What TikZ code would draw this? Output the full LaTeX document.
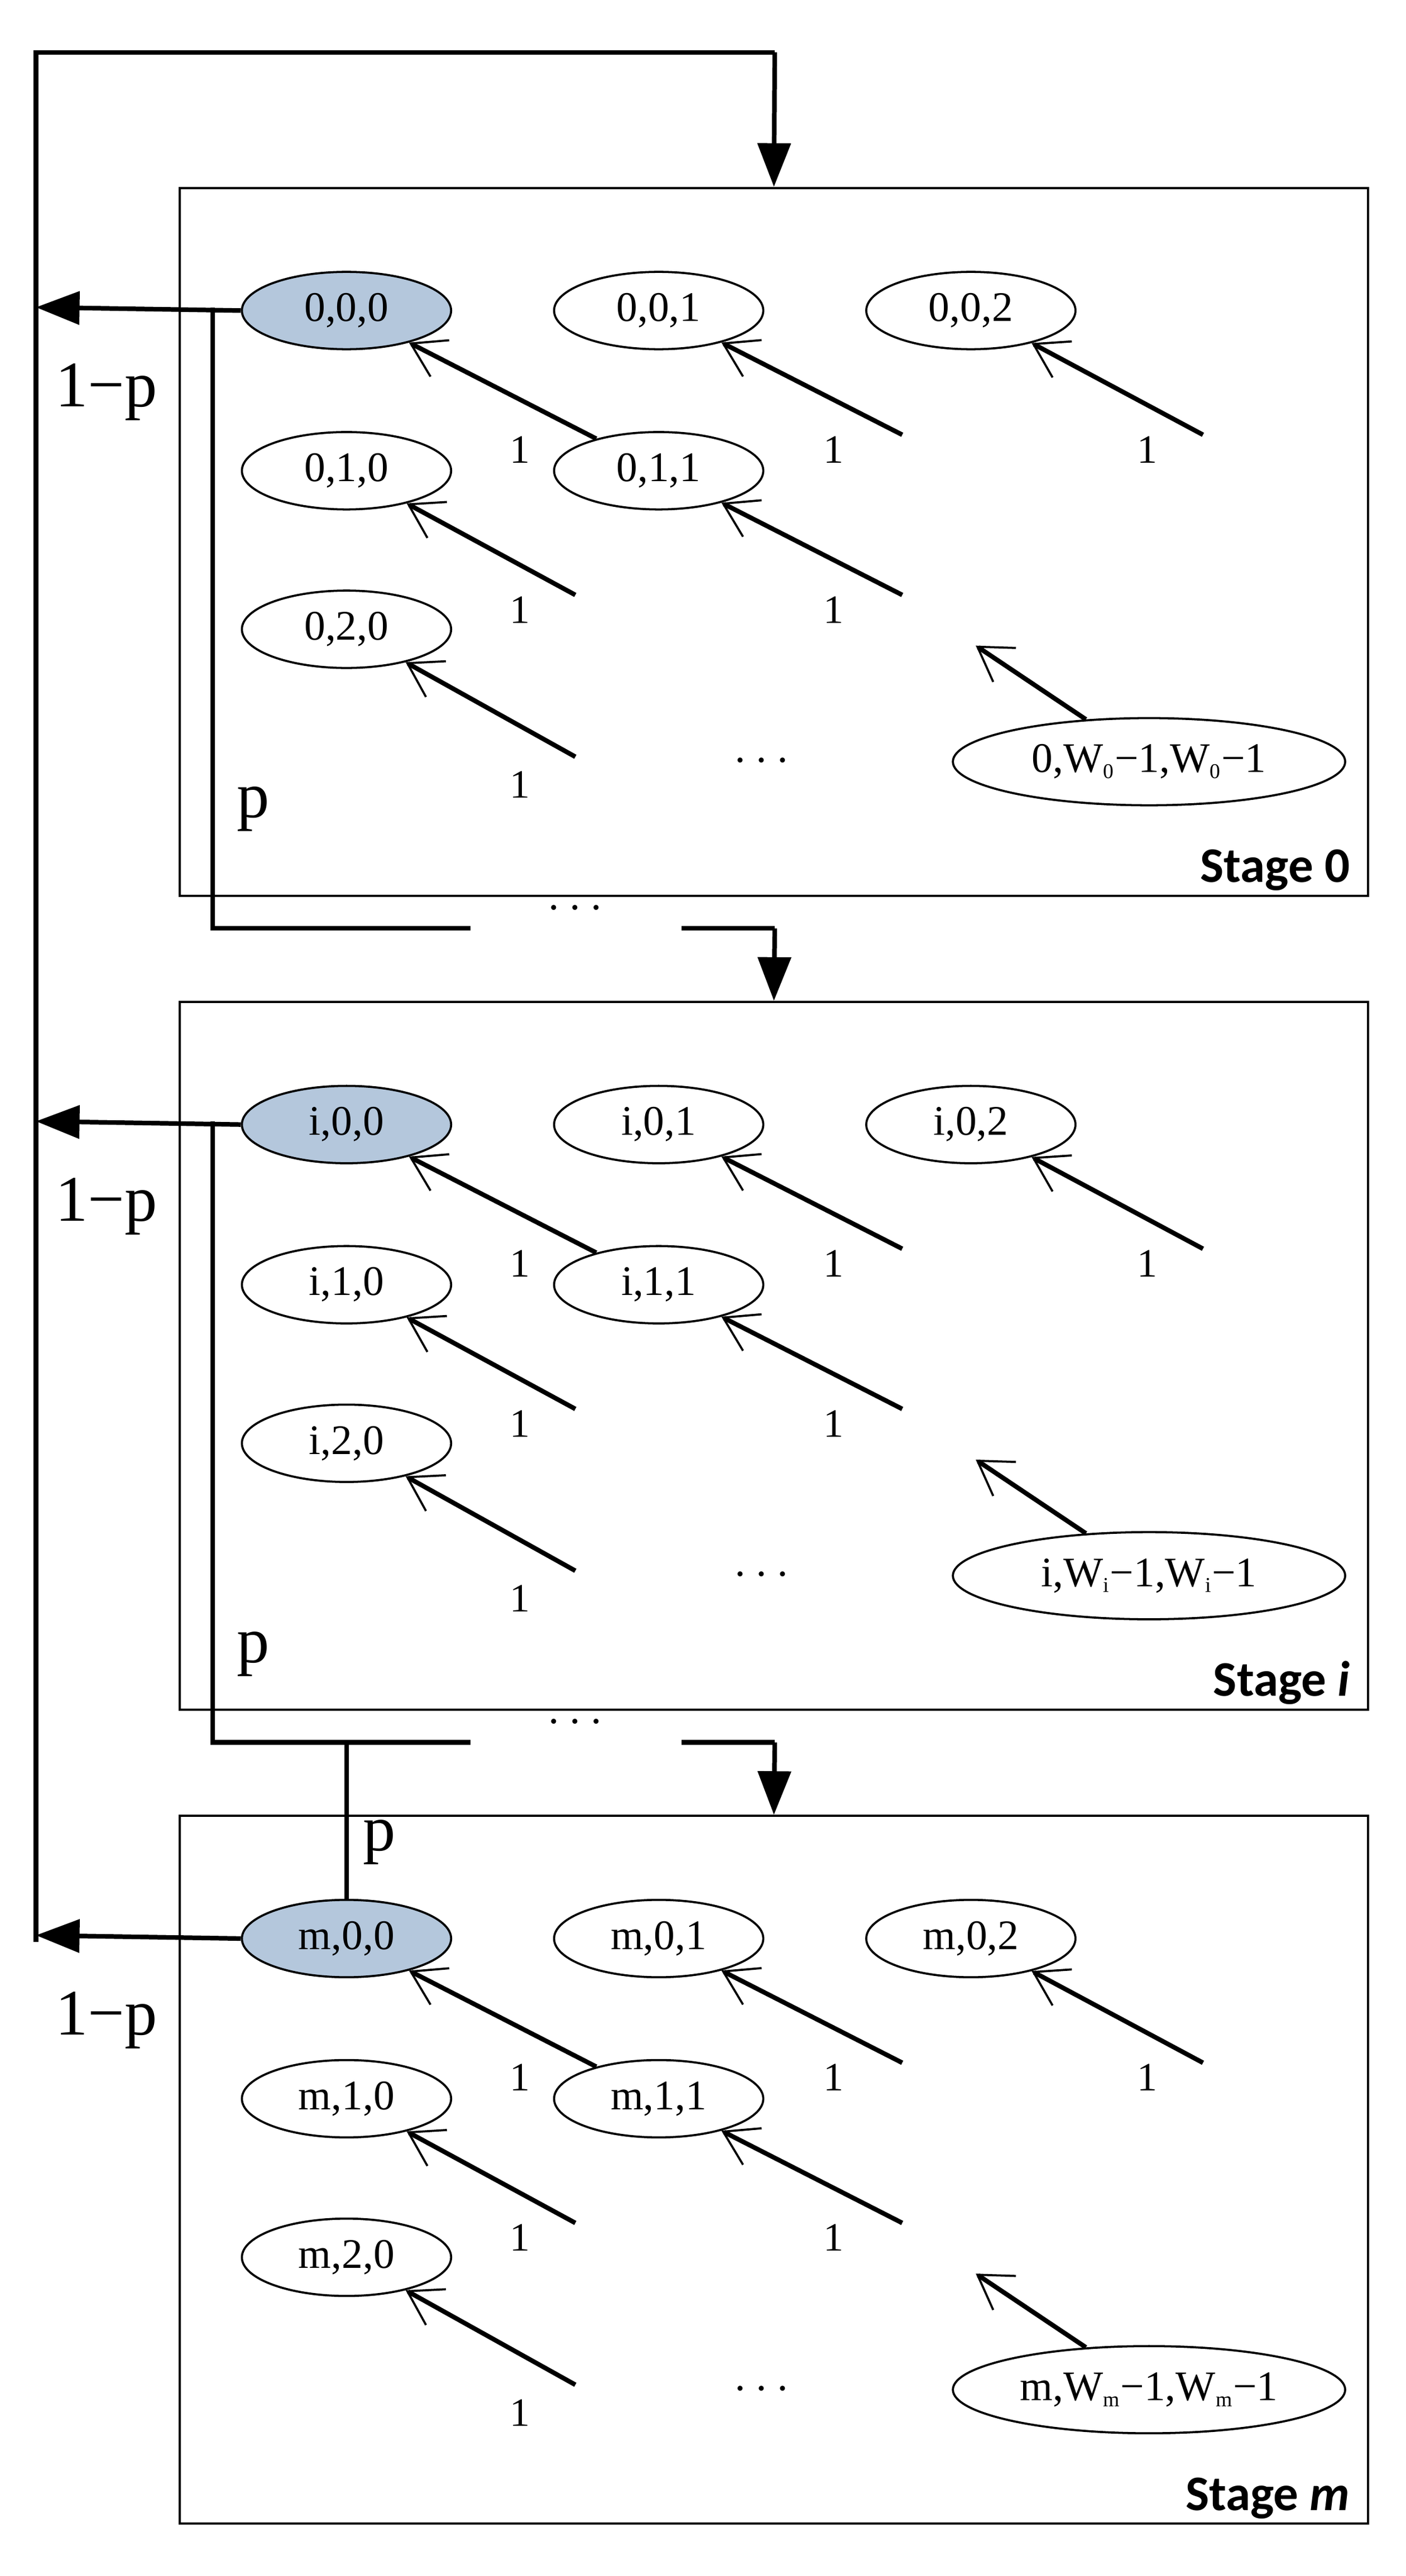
\documentclass[tikz,border=0pt]{standalone}
\usepackage{fontspec}
\setmainfont{Liberation Serif}
\newfontfamily\stagefont{Carlito}
\usetikzlibrary{arrows.meta,shapes.geometric}
\definecolor{shade}{HTML}{B4C7DC}
\tikzset{
  st/.style={ellipse,draw,line width=1.1pt,inner sep=0pt,minimum width=3.84cm,minimum height=1.42cm,font=\fontsize{22}{22}\selectfont},
  big/.style={st,minimum width=7.2cm,minimum height=1.6cm},
  box/.style={draw,line width=1.2pt,minimum width=21.81cm,minimum height=12.99cm,inner sep=0pt},
  tr/.style={line width=2.4pt,-{Straight Barb[length=0.6cm,width=0.75cm,line width=1.1pt]}},
  main/.style={line width=2.4pt},
  marr/.style={main,-{Triangle[length=0.8cm,width=0.6cm]}},
  one/.style={font=\fontsize{21}{21}\selectfont},
  big1/.style={font=\fontsize{34}{34}\selectfont},
}
\begin{document}
\begin{tikzpicture}[x=0.03cm,y=-0.03cm]
\useasboundingbox (0,0) rectangle (860,1576);
\foreach \s/\o/\lab/\W in {0/0/{Stage 0}/0, i/498/{Stage \textit{i}}/i, m/996/{Stage \textit{m}}/m}{
 \begin{scope}[shift={(0,\o)}]
  \node[box] (b\s) at (473.5,331.5) {};
  \node[anchor=south east,font=\stagefont\bfseries\fontsize{26}{26}\selectfont] (lab\s) at (830,549) {\lab};
  \node[st,fill=shade] (e\s00) at (212,190) {\s,0,0};
  \node[st] (e\s01) at (403,190) {\s,0,1};
  \node[st] (e\s02) at (594,190) {\s,0,2};
  \node[st] (e\s10) at (212,288) {\s,1,0};
  \node[st] (e\s11) at (403,288) {\s,1,1};
  \node[st] (e\s20) at (212,385) {\s,2,0};
  \node[big] (eL\s) at (703,466) {\s,W$_{\scriptscriptstyle\mathrm{\W}}$−1,W$_{\scriptscriptstyle\mathrm{\W}}$−1};
  \coordinate (t\s01) at (552,266);
  \coordinate (t\s02) at (736,266);
  \coordinate (t\s10) at (352,364);
  \coordinate (t\s11) at (552,364);
  \coordinate (t\s20) at (352,463);
  \coordinate (hL\s) at (597,395);
  \draw[tr] (e\s11) -- (e\s00);
  \draw[tr] (t\s01) -- (e\s01);
  \draw[tr] (t\s02) -- (e\s02);
  \draw[tr] (t\s10) -- (e\s10);
  \draw[tr] (t\s11) -- (e\s11);
  \draw[tr] (t\s20) -- (e\s20);
  \draw[tr] (eL\s) -- (hL\s);
  \node[one] (o1\s) at (318,275) {1};
  \node[one] (o2\s) at (510,275) {1};
  \node[one] (o3\s) at (702,275) {1};
  \node[one] (o4\s) at (318,373) {1};
  \node[one] (o5\s) at (510,373) {1};
  \node[one] (o6\s) at (318,480) {1};
  \node[big1] (d\s) at (466,466) {$\cdots$};
  \coordinate (a\s) at (22,188);
  \draw[marr] (e\s00.west) -- (a\s);
  \node[big1] (q\s) at (65,240) {1−p};
 \end{scope}
}
\node[big1] (p0) at (155,495) {p};
\node[big1] (pi) at (155,1012) {p};
% top loop
\coordinate (L0) at (22,32);
\coordinate (T0) at (474,32);
\coordinate (Lm) at (22,1188);
\draw[main] (Lm) -- (L0) -- (T0);
\draw[marr] (T0) -- (b0.north);
% stage 0 -> stage i
\coordinate (c0a) at (130,188);
\coordinate (c0b) at (130,568);
\coordinate (c0c) at (288,568);
\coordinate (c0d) at (417,568);
\coordinate (c0e) at (474,568);
\draw[main] (c0a) -- (c0b) -- (c0c);
\node[big1] (g0) at (352,556) {$\cdots$};
\draw[main] (c0d) -- (c0e);
\draw[marr] (c0e) -- (bi.north);
% stage i -> stage m
\coordinate (cia) at (130,686);
\coordinate (cib) at (130,1066);
\coordinate (cic) at (288,1066);
\coordinate (cid) at (417,1066);
\coordinate (cie) at (474,1066);
\coordinate (cif) at (212,1066);
\draw[main] (cia) -- (cib) -- (cic);
\node[big1] (gi) at (352,1054) {$\cdots$};
\draw[main] (cid) -- (cie);
\draw[marr] (cie) -- (bm.north);
\draw[main] (cif) -- (em00.north);
\node[big1] (pm) at (232,1127) {p};
\end{tikzpicture}
\end{document}
